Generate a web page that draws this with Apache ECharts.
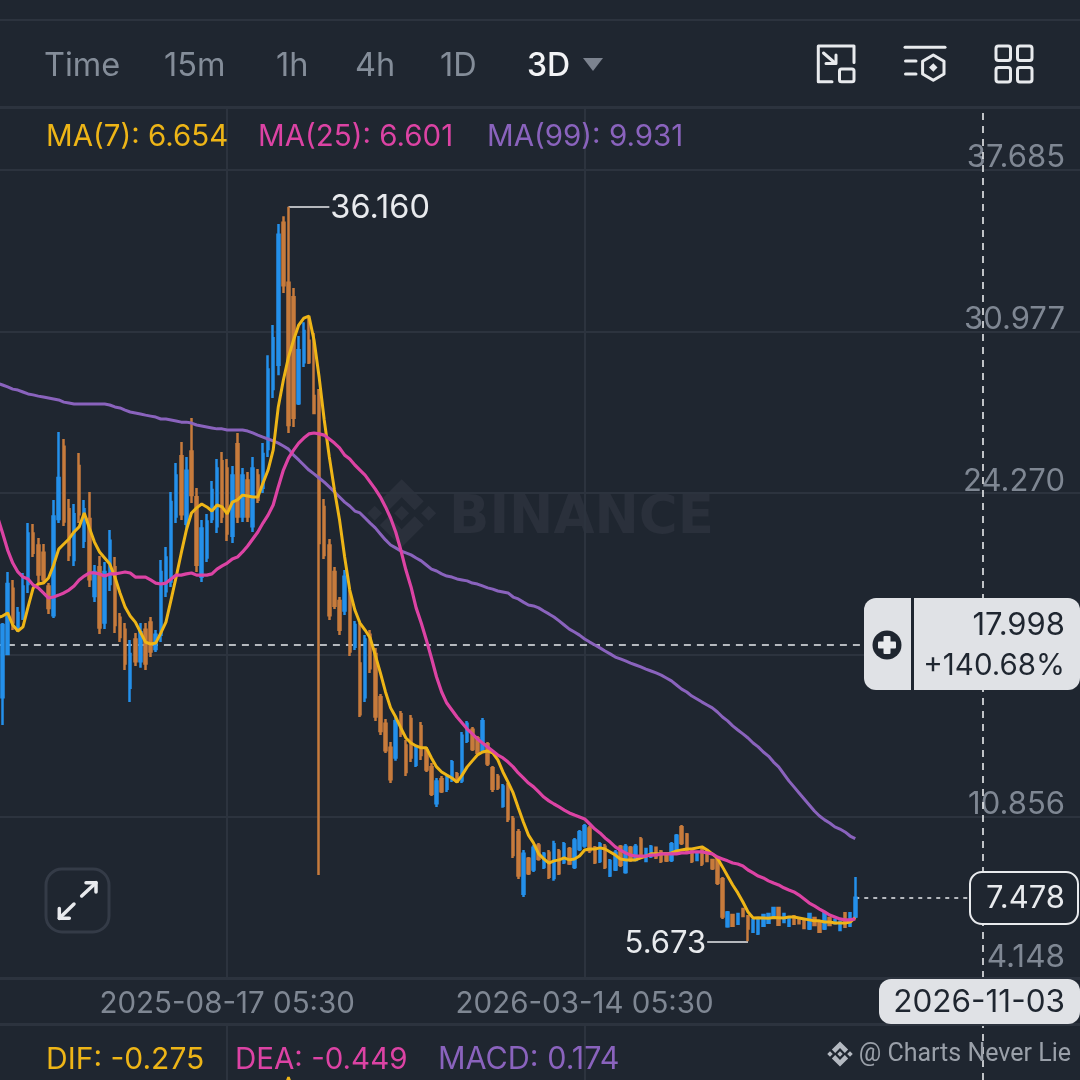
<!DOCTYPE html>
<html><head><meta charset="utf-8">
<style>html,body{margin:0;padding:0;background:#1f2630}#c{width:1080px;height:1080px}</style>
<script src="https://cdn.jsdelivr.net/npm/echarts@6/dist/echarts.min.js"></script>
</head><body><div id="c"></div>
<script>
const opens=[17.0,15.8,17.6,20.3,18.6,19.1,20.5,22.6,22.1,21.8,20.4,
19.2,23.2,26.2,23.6,21.5,25.4,22.3,23.2,20.0,21.2,
18.9,20.5,21.2,19.1,18.6,16.2,18.2,17.3,18.6,18.9,
17.8,18.4,20.2,20.6,23.3,25.8,23.0,26.0,24.1,20.8,
21.6,23.2,22.9,25.6,25.3,22.5,26.3,23.3,24.8,22.9,
25.0,24.5,26.1,28.6,29.6,35.5,33.0,32.4,28.0,29.7,
30.6,28.3,28.4,23.7,22.1,21.0,19.8,19.4,20.0,17.9,
17.2,15.8,18.4,17.6,15.8,14.7,13.7,13.3,15.1,13.8,
14.9,13.0,14.6,13.6,12.9,11.4,12.4,12.0,12.4,12.6,
12.35,14.0,14.45,14.1,13.6,13.85,12.85,12.5,11.3,12.1,
10.75,10.2,7.65,9.1,8.65,9.65,8.75,9.35,8.3,9.4,
8.95,9.5,8.75,9.5,9.65,10.35,9.55,9.0,9.6,8.4,
8.65,9.6,8.55,9.55,9.05,9.9,9.0,9.2,9.55,9.4,
9.32,9.05,9.4,10.4,10.1,9.4,9.05,9.5,9.4,9.05,
9.1,8.25,6.3,6.76,6.4,7.0,6.7,6.07,6.0,6.32,
6.44,6.72,7.05,6.47,6.32,6.7,6.6,6.56,6.2,6.64,
6.5,6.2,6.64,6.42,6.14,6.84,6.32,6.7];
const closes=[17.3,18.8,20.5,18.9,19.3,20.4,22.6,21.8,20.9,20.7,19.5,
23.3,24.9,23.1,21.7,23.4,23.4,23.6,20.7,21.0,18.7,
21.0,22.3,18.8,18.3,17.2,17.6,17.3,18.5,17.2,17.7,
18.4,21.0,21.6,23.9,25.0,23.4,25.2,24.2,21.3,22.8,
23.1,24.4,25.3,23.3,22.6,25.0,23.3,25.0,23.3,25.3,
24.0,25.9,29.4,30.7,35.0,32.9,27.1,27.4,30.2,31.0,
29.7,27.6,22.2,21.7,19.2,19.6,18.6,20.8,17.7,18.8,
15.1,18.2,17.0,15.0,14.4,13.6,12.4,14.8,14.3,12.7,
13.3,13.7,13.4,12.8,11.8,12.3,11.9,12.5,13.1,12.3,
14.2,14.7,13.65,13.5,14.8,13.05,12.0,12.05,12.1,10.75,
9.25,8.4,9.3,8.5,9.55,9.1,9.3,8.35,9.7,8.5,
9.7,8.9,9.85,10.2,10.45,9.45,8.95,9.7,8.75,9.0,
9.35,8.85,9.6,9.05,9.6,9.3,9.5,9.6,9.15,9.0,
9.02,9.7,10.05,9.75,9.35,9.0,9.33,8.9,9.0,8.7,
8.1,6.7,6.87,6.32,6.8,6.72,6.2,6.55,6.55,6.76,
6.8,7.05,6.36,6.8,6.67,6.4,6.42,6.22,6.8,6.35,
6.07,6.84,6.35,6.57,6.48,6.28,6.84,7.478];
const highs=[17.5,18.88,21.00,20.67,19.55,20.96,23.03,22.99,22.41,22.16,20.54,
23.99,26.81,26.52,24.03,23.82,25.94,23.99,24.32,21.29,21.66,
21.41,22.74,21.62,19.30,18.88,18.18,18.47,18.88,18.88,19.13,
18.59,21.50,22.04,24.32,25.52,26.39,25.77,27.39,24.49,23.16,
23.41,24.78,25.69,25.98,25.69,25.40,26.77,25.32,25.15,25.77,
25.27,26.35,30.00,31.25,35.44,35.77,36.16,32.79,30.79,31.37,
31.54,30.92,28.59,24.03,22.37,21.21,19.96,21.08,20.25,18.97,
18.88,18.38,18.59,17.85,15.94,14.90,13.94,14.98,15.23,14.03,
15.06,13.82,14.77,13.74,13.07,12.45,12.53,12.57,13.20,12.70,
14.36,14.82,14.57,14.19,14.94,13.94,12.95,12.62,12.20,12.24,
10.87,10.33,9.46,9.17,9.67,9.75,9.38,9.46,9.84,9.50,
9.79,9.59,9.96,10.29,10.54,10.46,9.63,9.79,9.71,9.09,
9.46,9.67,9.71,9.63,9.71,10.00,9.55,9.67,9.59,9.46,
9.38,9.79,10.13,10.50,10.17,9.46,9.38,9.59,9.46,9.09,
9.17,8.34,6.93,6.81,6.85,7.06,6.76,6.60,6.60,6.81,
6.85,7.10,7.10,6.85,6.72,6.76,6.64,6.60,6.85,6.68,
6.56,6.89,6.68,6.60,6.52,6.89,6.89,8.34];
const lows=[17.0,14.65,17.55,18.59,18.51,19.01,20.13,21.62,20.54,20.54,19.26,
19.09,23.03,22.91,21.46,21.25,23.03,22.00,20.38,19.75,18.43,
18.63,20.21,18.47,18.09,16.93,15.60,17.10,17.02,16.93,17.47,
17.68,18.09,19.96,20.38,23.03,23.16,22.74,23.86,21.00,20.58,
21.41,23.03,22.62,23.03,22.29,22.20,23.03,23.07,23.07,22.66,
23.86,24.28,25.77,28.22,29.17,32.58,26.77,27.02,27.93,29.51,
29.63,27.56,8.42,21.54,19.01,19.46,18.38,19.21,17.51,17.76,
14.98,15.60,16.81,14.82,14.23,13.49,12.24,13.16,14.15,12.53,
13.11,12.91,13.20,12.70,11.70,11.25,11.83,11.87,12.28,12.24,
12.24,13.90,13.57,13.40,13.53,12.95,11.87,11.95,11.21,10.62,
9.13,8.26,7.51,8.42,8.55,9.01,8.67,8.26,8.18,8.42,
8.88,8.84,8.67,9.42,9.55,9.34,8.88,8.92,8.67,8.34,
8.59,8.76,8.47,8.96,9.01,9.21,8.96,9.13,9.09,8.92,
8.96,8.96,9.34,9.67,9.30,8.92,9.01,8.80,8.96,8.63,
8.01,6.60,6.23,6.27,6.35,6.68,5.673,6.02,5.93,6.27,
6.39,6.68,6.31,6.43,6.27,6.35,6.39,6.18,6.14,6.31,
6.02,6.14,6.31,6.39,6.10,6.23,6.27,6.64];
const ma7=[19.10,19.17,19.30,18.80,18.55,18.72,19.55,20.34,20.50,20.54,20.75,
21.29,21.95,22.16,22.37,22.66,22.87,23.45,22.83,22.24,21.83,
21.58,21.33,20.79,20.13,19.55,19.17,18.92,18.51,18.09,18.01,
18.05,18.47,18.92,19.84,20.79,21.79,22.74,23.45,23.66,23.82,
23.70,23.53,23.78,23.70,23.41,23.90,23.99,24.19,24.15,24.11,
24.11,24.69,25.23,26.06,27.85,28.97,29.92,30.63,31.25,31.54,
31.62,30.63,29.09,27.31,25.77,24.40,23.16,21.62,20.25,19.42,
18.88,18.59,18.26,17.55,16.81,16.02,15.36,14.98,14.53,14.11,
13.90,13.78,13.70,13.70,13.28,12.91,12.70,12.57,12.45,12.28,
12.57,12.91,13.16,13.40,13.53,13.57,13.49,13.20,12.70,12.28,
11.83,11.21,10.62,10.08,9.75,9.30,9.09,8.92,9.01,9.05,
9.13,9.05,9.09,9.21,9.46,9.50,9.50,9.55,9.50,9.38,
9.25,9.09,9.05,9.05,9.05,9.13,9.21,9.30,9.30,9.30,
9.30,9.34,9.42,9.46,9.50,9.50,9.55,9.59,9.46,9.30,
9.13,8.76,8.38,8.01,7.68,7.30,6.89,6.64,6.65,6.64,
6.63,6.66,6.65,6.64,6.68,6.68,6.64,6.60,6.56,6.52,
6.52,6.47,6.47,6.43,6.43,6.43,6.47,6.654];
const ma25=[23.30,22.62,21.91,21.37,21.00,20.79,20.71,20.46,20.34,20.13,19.92,
19.96,20.04,20.13,20.25,20.42,20.67,20.83,20.96,20.96,20.92,
20.83,20.92,20.92,20.96,21.00,20.96,20.79,20.79,20.79,20.67,
20.54,20.50,20.54,20.71,20.87,20.87,20.92,20.96,20.87,20.87,
20.87,20.92,21.12,21.25,21.37,21.54,21.62,21.83,22.08,22.37,
22.66,23.03,23.36,23.78,24.53,25.23,25.73,26.06,26.35,26.56,
26.73,26.77,26.73,26.68,26.52,26.35,26.15,25.85,25.69,25.44,
25.23,25.02,24.73,24.44,24.11,23.70,23.24,22.66,21.91,21.08,
20.38,19.51,18.88,18.18,17.43,16.64,16.02,15.56,15.27,14.98,
14.73,14.48,14.28,14.07,13.90,13.74,13.57,13.40,13.28,13.11,
12.91,12.66,12.45,12.24,12.08,11.87,11.66,11.50,11.37,11.25,
11.12,11.00,10.91,10.83,10.75,10.54,10.33,10.17,9.96,9.79,
9.59,9.46,9.34,9.25,9.21,9.21,9.21,9.25,9.25,9.30,
9.30,9.30,9.30,9.34,9.34,9.38,9.38,9.38,9.34,9.30,
9.17,9.09,9.01,8.92,8.88,8.80,8.63,8.51,8.38,8.30,
8.18,8.09,8.01,7.89,7.80,7.72,7.59,7.43,7.26,7.14,
7.01,6.89,6.76,6.68,6.60,6.56,6.56,6.601];
const ma99=[28.84,28.76,28.68,28.59,28.55,28.47,28.39,28.35,28.30,28.26,28.22,
28.18,28.14,28.05,28.01,27.97,27.97,27.97,27.97,27.97,27.97,
27.97,27.93,27.85,27.81,27.72,27.64,27.60,27.56,27.51,27.47,
27.43,27.35,27.35,27.31,27.27,27.22,27.22,27.18,27.10,27.06,
27.02,26.98,26.94,26.94,26.89,26.89,26.89,26.89,26.85,26.77,
26.68,26.60,26.52,26.44,26.35,26.23,26.10,25.85,25.65,25.44,
25.23,25.07,24.90,24.73,24.53,24.32,24.11,23.90,23.74,23.53,
23.45,23.24,23.03,22.83,22.58,22.33,22.12,22.00,21.87,21.79,
21.71,21.58,21.46,21.29,21.12,21.04,20.92,20.83,20.79,20.71,
20.67,20.63,20.54,20.50,20.42,20.34,20.29,20.21,20.17,20.13,
19.96,19.88,19.75,19.63,19.59,19.51,19.38,19.26,19.13,18.97,
18.80,18.63,18.51,18.38,18.22,18.09,17.97,17.85,17.72,17.60,
17.47,17.39,17.31,17.22,17.14,17.06,16.97,16.89,16.81,16.72,
16.60,16.48,16.31,16.14,16.02,15.85,15.73,15.60,15.48,15.36,
15.19,14.98,14.82,14.61,14.44,14.28,14.11,13.90,13.74,13.53,
13.36,13.11,12.91,12.62,12.33,12.08,11.83,11.58,11.33,11.08,
10.87,10.71,10.58,10.42,10.33,10.21,10.04,9.931];
const difIndex=[56,57,58];
const difTip=[-2,0.5,-2];
const yTicks=[4.148,10.856,17.563,24.270,30.977,37.685];
const yLabelTicks=[10.856,17.563,24.270,30.977,37.685];
const xTickLabels=['2025-08-17 05:30','2026-03-14 05:30'];
const xTickIndex=[45,115];
const crossIndex=193, crossDate='2026-11-03', crossPrice=17.998, crossPct='+140.68%', lastPrice=7.478;
const highMark=36.160, lowMark=5.673, highIndex=57, lowIndex=147, lastIndex=168;
const intervals=['Time','15m','1h','4h','1D','3D'];
const maLabels=['MA(7): 6.654','MA(25): 6.601','MA(99): 9.931'];
const macdLabels=['DIF: -0.275','DEA: -0.449','MACD: 0.174'];

const BG='#1f2630',GRID='#2c333e',GREY='#848d99',AXIS='#7f8793',UP='#2490ea',DOWN='#c77b3c',
  YEL='#eeb517',PINK='#dc43a4',PUR='#8a63bd',WHITE='#e8eaed',PILL='#e0e2e6',DARK='#1f2630',FF='Inter',FS=29.5;

const cats=[];
for(let i=0;i<213;i++){
  const d=new Date(Date.UTC(2025,7,17)+((i-45)*3-(i>=115?1:0))*864e5);
  cats.push(d.toISOString().slice(0,10)+' 05:30');
}
const candle=opens.map((o,i)=>[o,closes[i],lows[i],highs[i]]);
const difData=cats.map((c,i)=>{const k=difIndex.indexOf(i);return k<0?null:difTip[k];});

const txt=(text,x,y,size,fill,align,weight,ff)=>({type:'text',z:100,silent:true,style:{text,x,y,fill,
  font:(weight||'400')+' '+size+'px '+(ff||FF),align:align||'left',verticalAlign:'middle'}});
const line=(pts,stroke,w)=>({type:'polyline',z:100,silent:true,shape:{points:pts},style:{stroke,lineWidth:w,fill:'none',lineCap:'round',lineJoin:'round'}});
const rect=(x,y,w,h,r,fill,stroke,lw)=>({type:'rect',z:100,silent:true,shape:{x,y,width:w,height:h,r},style:{fill:fill||'none',stroke:stroke||'none',lineWidth:lw||0}});
const poly=(pts,fill,z)=>({type:'polygon',z:z,silent:true,shape:{points:pts},style:{fill}});
function logo(cx,cy,s,fill,z){
  const dia=(x,y,h)=>poly([[cx+x*s,cy+(y-h)*s],[cx+(x+h)*s,cy+y*s],[cx+x*s,cy+(y+h)*s],[cx+(x-h)*s,cy+y*s]],fill,z);
  const top=[[0,-34],[22,-12],[13,-3],[0,-16],[-13,-3],[-22,-12]];
  return [dia(0,0,7.5),dia(-27,0,7.5),dia(27,0,7.5),
    poly(top.map(p=>[cx+p[0]*s,cy+p[1]*s]),fill,z),
    poly(top.map(p=>[cx+p[0]*s,cy-p[1]*s]),fill,z)];
}
const gfx=[];
[[20,2],[107.5,3],[1024.5,3]].forEach(r=>gfx.push(rect(0,r[0]-r[1]/2,1080,r[1],0,GRID)));
gfx.push(rect(0,977,1080,3,0,GRID));
[[44],[164],[276],[355],[440]].forEach((p,i)=>gfx.push(txt(intervals[i],p[0],66,32.5,GREY)));
gfx.push(txt(intervals[5],527,66,32,'#f2f3f5','left','500'));
gfx.push(poly([[583,58],[603,58],[593,71]],'#7c838f',100));
gfx.push(line([[832,81.7],[818.3,81.7],[818.3,46],[854,46],[854,62.5]],WHITE,3));
gfx.push(rect(839.5,69,14.5,12.7,2,'none',WHITE,3));
gfx.push(line([[823.5,53],[835,63]],WHITE,3),line([[826,63.5],[836,63.5],[836,55]],WHITE,3));
gfx.push(line([[905,47.3],[945,47.3]],WHITE,3),line([[905.5,61],[916,61]],WHITE,3),line([[905.5,74],[916,74]],WHITE,3));
gfx.push({type:'polygon',z:100,silent:true,shape:{points:[[933.3,55],[944,61.3],[944,74],[933.3,80.3],[922.6,74],[922.6,61.3]]},style:{fill:'none',stroke:WHITE,lineWidth:3,lineJoin:'round'}});
gfx.push(poly([[933.3,63.2],[937.5,67.5],[933.3,71.8],[929,67.5]],WHITE,100));
[[996,46],[1017.5,46],[996,67.5],[1017.5,67.5]].forEach(p=>gfx.push(rect(p[0],p[1],14.5,14.5,2.5,'none',WHITE,3)));
gfx.push(txt(maLabels[0],46,137,FS,YEL),txt(maLabels[1],258,137,FS,PINK),txt(maLabels[2],487,137,FS,PUR));
gfx.push(txt(macdLabels[0],46,1060,30,YEL),txt(macdLabels[1],235,1060,FS,PINK),txt(macdLabels[2],438,1060,30.5,PUR));
logo(401.7,513.3,1,'#2a303b',0).forEach(e=>gfx.push(e));
gfx.push({type:'text',z:0,silent:true,style:{text:'BINANCE',x:449,y:519,fill:'#2a303b',font:'700 53px "DejaVu Sans"',align:'left',verticalAlign:'middle'}});
logo(840,1054,0.37,'#b4b9c1',100).forEach(e=>gfx.push(e));
gfx.push(txt('@ Charts Never Lie',1071,1055,25,'#9aa0a9','right','400','Roboto'));
gfx.push(rect(46,869,63,63,16,'none','#343b47',3));
gfx.push(line([[81.7,896],[96,882.7]],WHITE,3.5),line([[86,882.7],[96,882.7],[96,892]],WHITE,3.5));
gfx.push(line([[74,904],[59.3,918.3]],WHITE,3.5),line([[59.3,908.5],[59.3,918.3],[69.3,918.3]],WHITE,3.5));
gfx.push(txt('4.148',1065,958,31.5,AXIS,'right'));
gfx.push(rect(864,598,216,92,12,PILL));
gfx.push(rect(911,598,3,92,0,DARK));
gfx.push({type:'circle',z:100,silent:true,shape:{cx:887,cy:645,r:14.5},style:{fill:DARK}});
gfx.push(rect(883.5,636,7,18,1,WHITE),rect(878,641.5,18,7,1,WHITE));
gfx.push(txt(crossPrice.toFixed(3),1065,626,31,'#1f2630','right'),txt(crossPct,1065,666,FS,'#1f2630','right'));
gfx.push(rect(970,872,108,52,12,DARK,WHITE,2));
gfx.push(txt(lastPrice.toFixed(3),1065,899,31,WHITE,'right'));
gfx.push(rect(879,979,201,45,12,PILL));
gfx.push(txt(crossDate,1065,1003,31.5,'#1f2630','right'));

const vline=i=>({xAxis:cats[i],lineStyle:{color:GRID,width:2,type:'solid'}});
const crossStyle={color:WHITE,width:1.6,type:[7,6]};
const gridW=213*5.106;
const option={
  animation:false,backgroundColor:BG,
  graphic:{elements:gfx},
  grid:[{left:-5.106,top:108,width:gridW,height:870,outerBoundsMode:'none'},{left:-5.106,top:1025,width:gridW,height:55,outerBoundsMode:'none'}],
  xAxis:[
    {type:'category',gridIndex:0,data:cats,boundaryGap:true,axisLine:{show:false},axisTick:{show:false},splitLine:{show:false},
     axisLabel:{show:true,color:AXIS,fontFamily:FF,fontSize:FS,margin:11,hideOverlap:false,
       interval:(idx)=>xTickIndex.includes(idx),
       formatter:(v,idx)=>{const k=xTickIndex.indexOf(idx);return k<0?'':xTickLabels[k];}}},
    {type:'category',gridIndex:1,data:cats,boundaryGap:true,axisLine:{show:false},axisTick:{show:false},splitLine:{show:false},axisLabel:{show:false}}
  ],
  yAxis:[
    {type:'value',gridIndex:0,position:'right',min:4.148,max:40.258,scale:true,axisLine:{show:false},
     axisTick:{show:false,customValues:yTicks},
     splitLine:{show:true,lineStyle:{color:GRID,width:2}},
     axisLabel:{show:true,inside:true,customValues:yLabelTicks,color:AXIS,fontFamily:FF,fontSize:31,margin:17.5,verticalAlign:'bottom',lineHeight:24,
       formatter:v=>v.toFixed(3)}},
    {type:'value',gridIndex:1,min:0,max:10,show:false}
  ],
  series:[
    {type:'line',name:'MA99',xAxisIndex:0,yAxisIndex:0,data:ma99,symbol:'none',z:3,lineStyle:{color:PUR,width:3},silent:true},
    {type:'candlestick',name:'Price',xAxisIndex:0,yAxisIndex:0,data:candle,barWidth:2,z:2,silent:true,
     itemStyle:{color:UP,color0:DOWN,borderColor:UP,borderColor0:DOWN,borderWidth:2.5},
     markLine:{silent:true,symbol:'none',label:{show:false},z:1,
       data:[vline(xTickIndex[0]),vline(xTickIndex[1]),
         {yAxis:crossPrice,lineStyle:crossStyle},
         {xAxis:cats[crossIndex],lineStyle:crossStyle},
         [{coord:[cats[highIndex],highMark],lineStyle:{color:WHITE,width:1.6,type:'solid'}},{coord:[cats[65],highMark]}],
         [{coord:[cats[lowIndex],lowMark],lineStyle:{color:WHITE,width:1.6,type:'solid'}},{coord:[cats[139],lowMark]}],
         [{coord:[cats[lastIndex],lastPrice],lineStyle:{color:WHITE,width:1.6,type:[4,5]}},{coord:[cats[190],lastPrice]}]
       ]},
     markPoint:{silent:true,symbol:'circle',symbolSize:0,
       data:[
         {coord:[cats[65],highMark],label:{show:true,position:'right',distance:1,offset:[0,2],formatter:highMark.toFixed(3),color:WHITE,fontFamily:FF,fontSize:32.5}},
         {coord:[cats[139],lowMark],label:{show:true,position:'left',distance:1,offset:[0,2],formatter:lowMark.toFixed(3),color:WHITE,fontFamily:FF,fontSize:31}}
       ]}},
    {type:'line',name:'MA7',xAxisIndex:0,yAxisIndex:0,data:ma7,symbol:'none',z:4,lineStyle:{color:YEL,width:3},silent:true},
    {type:'line',name:'MA25',xAxisIndex:0,yAxisIndex:0,data:ma25,symbol:'none',z:5,lineStyle:{color:PINK,width:3.2},silent:true},
    {type:'line',name:'DIF',xAxisIndex:1,yAxisIndex:1,data:difData,symbol:'none',z:4,lineStyle:{color:YEL,width:2.5},silent:true,connectNulls:false,
     markLine:{silent:true,symbol:'none',label:{show:false},
       data:[vline(xTickIndex[0]),vline(xTickIndex[1]),{xAxis:cats[crossIndex],lineStyle:crossStyle}]}}
  ]
};
echarts.init(document.getElementById('c'),null,{renderer:'canvas'}).setOption(option);
</script></body></html>
